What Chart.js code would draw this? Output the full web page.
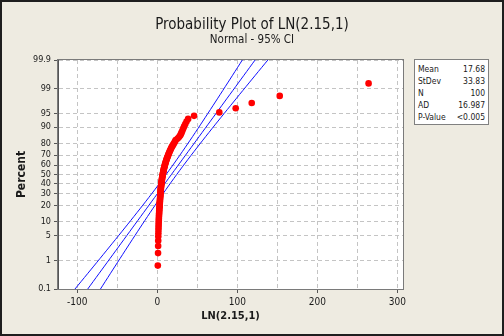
<!DOCTYPE html>
<html><head><meta charset="utf-8">
<script src="https://cdn.jsdelivr.net/npm/chart.js@4.4.1/dist/chart.umd.min.js"></script>
<style>
html,body{margin:0;padding:0;background:#EEEBE1;}
body{position:relative;width:504px;height:336px;overflow:hidden;font-family:'DejaVu Sans Condensed','DejaVu Sans',sans-serif;color:#1a1a1a;}
canvas{position:absolute;left:0;top:0;}
#title{position:absolute;left:0;top:15px;width:504px;text-align:center;font-size:15px;line-height:18px;}
#subtitle{position:absolute;left:0;top:32px;width:504px;text-align:center;font-size:11.5px;line-height:14px;}
#stats{position:absolute;left:414px;top:59px;width:75px;height:66px;box-sizing:border-box;border:1px solid #808080;background:#fff;font-size:8.5px;}
#stats .row{position:absolute;left:3px;right:3px;height:12px;line-height:12px;}
#stats .row span.v{position:absolute;right:0;top:0;}
#frame{position:absolute;left:0;top:0;width:504px;height:336px;box-sizing:border-box;border:2px solid #1e1e1e;pointer-events:none;}
</style></head>
<body>
<canvas id="c" width="504" height="336"></canvas>
<div id="title">Probability Plot of LN(2.15,1)</div>
<div id="subtitle">Normal - 95% CI</div>
<div id="stats"></div>
<div id="frame"></div>
<script>
// ---- data ----
const sample = [
 0.7,1.0,1.1,1.2,1.3,1.4,1.5,1.6,1.7,1.8,
 1.9,2.0,2.1,2.2,2.3,2.4,2.5,2.6,2.8,2.9,
 3.0,3.1,3.2,3.3,3.4,3.5,3.6,3.7,3.8,3.9,
 4.0,4.1,4.2,4.3,4.4,4.5,4.6,4.8,4.9,5.0,
 5.2,5.3,5.5,5.6,5.8,6.0,6.1,6.3,6.5,6.8,
 7.0,7.2,7.4,7.6,7.9,8.1,8.4,8.7,9.0,9.3,
 9.6,10.0,10.3,10.7,11.1,11.5,11.9,12.4,12.9,13.4,
 13.9,14.4,15.0,15.6,16.2,16.9,17.6,18.4,19.3,20.3,
 21.3,22.2,23.0,25.5,27.2,28.6,29.6,30.6,31.6,32.6,
 33.6,35.0,36.6,38.6,46.0,77.5,98.0,118.0,153.0,264.0
];
const statLabels = ['Mean','StDev','N','AD','P-Value'];
const statValues = ['17.68','33.83','100','16.987','<0.005'];
const fitMean = 17.68, fitStDev = 33.83, fitN = 100;
const yTickPercents = [0.1,1,5,10,20,30,40,50,60,70,80,90,95,99,99.9];
const yTickLabels = ['0.1','1','5','10','20','30','40','50','60','70','80','90','95','99','99.9'];
const xTicks = [-100,-50,0,50,100,150,200,250,300];
const xMin = -124, xMax = 307;

// ---- normal quantile (probability axis transform) ----
function normInv(p){
 const a=[-3.969683028665376e+01,2.209460984245205e+02,-2.759285104469687e+02,1.383577518672690e+02,-3.066479806614716e+01,2.506628277459239e+00];
 const b=[-5.447609879822406e+01,1.615858368580409e+02,-1.556989798598866e+02,6.680131188771972e+01,-1.328068155288572e+01];
 const c=[-7.784894002430293e-03,-3.223964580411365e-01,-2.400758277161838e+00,-2.549732539343734e+00,4.374664141464968e+00,2.938163982698783e+00];
 const d=[7.784695709041462e-03,3.224671290700398e-01,2.445134137142996e+00,3.754408661907416e+00];
 const pl=0.02425, ph=1-pl; let q,r;
 if(p<pl){q=Math.sqrt(-2*Math.log(p));return (((((c[0]*q+c[1])*q+c[2])*q+c[3])*q+c[4])*q+c[5])/((((d[0]*q+d[1])*q+d[2])*q+d[3])*q+1);}
 if(p>ph){q=Math.sqrt(-2*Math.log(1-p));return -(((((c[0]*q+c[1])*q+c[2])*q+c[3])*q+c[4])*q+c[5])/((((d[0]*q+d[1])*q+d[2])*q+d[3])*q+1);}
 q=p-0.5;r=q*q;return (((((a[0]*r+a[1])*r+a[2])*r+a[3])*r+a[4])*r+a[5])*q/(((((b[0]*r+b[1])*r+b[2])*r+b[3])*r+b[4])*r+1);
}
const zMin = normInv(yTickPercents[0]/100), zMax = normInv(yTickPercents[yTickPercents.length-1]/100);

// points: sorted sample vs median-rank plotting positions
const n = sample.length;
const pts = sample.map((v,i)=>({x:v, y:normInv((i+1-0.3)/(n+0.4))}));

// fitted line and 95% CI from the Mean/StDev shown
const fitLine=[], ciLo=[], ciHi=[];
for(let k=0;k<=60;k++){
  const z = zMin + (zMax-zMin)*k/60;
  const xp = fitMean + z*fitStDev;
  const se = fitStDev*Math.sqrt((1+z*z/2)/fitN);
  fitLine.push({x:xp,y:z}); ciLo.push({x:xp-1.96*se,y:z}); ciHi.push({x:xp+1.96*se,y:z});
}

// stats box
const sb=document.getElementById('stats');
statLabels.forEach((l,i)=>{
  const r=document.createElement('div'); r.className='row'; r.style.top=(2.5+i*12.2)+'px';
  r.innerHTML='<span></span><span class="v"></span>';
  r.children[0].textContent=l; r.children[1].textContent=statValues[i];
  sb.appendChild(r);
});

const FONT="'DejaVu Sans Condensed','DejaVu Sans',sans-serif";
const framePlugin={id:'frame',
 beforeDraw(chart){const {ctx,chartArea:a}=chart; ctx.save(); ctx.fillStyle='#EEEBE1'; ctx.fillRect(0,0,chart.width,chart.height); ctx.fillStyle='#fff'; ctx.fillRect(a.left,a.top,a.right-a.left,a.bottom-a.top); ctx.restore();},
 afterDraw(chart){const {ctx,chartArea:a}=chart; ctx.save(); ctx.strokeStyle='#7a7a7a'; ctx.lineWidth=1; ctx.strokeRect(Math.round(a.left)-0.5,Math.round(a.top)-0.5,Math.round(a.right-a.left)+1,Math.round(a.bottom-a.top)+1); ctx.restore();}
};
const lineDs=(d)=>({data:d,showLine:true,borderColor:'#1010ff',borderWidth:1,pointRadius:0,fill:false,tension:0});
new Chart(document.getElementById('c'),{
 type:'scatter',
 data:{datasets:[
  {data:pts,backgroundColor:'#ff0000',borderWidth:0,pointRadius:3.3,pointHoverRadius:3.3},
  lineDs(ciLo), lineDs(fitLine), lineDs(ciHi)
 ]},
 options:{
  responsive:false,animation:false,devicePixelRatio:1,
  layout:{padding:{left:0,top:60,right:101,bottom:0}},
  plugins:{legend:{display:false},tooltip:{enabled:false}},
  scales:{
   x:{type:'linear',min:xMin,max:xMax,
      afterBuildTicks(s){s.ticks=xTicks.map(v=>({value:v}));},
      afterFit(s){s.height=47;},
      ticks:{callback:(v)=> (v%100===0? String(v):''),autoSkip:false,maxRotation:0,padding:3,color:'#1a1a1a',font:{family:FONT,size:10}},
      grid:{color:'#c4c4c4',tickLength:4,tickColor:(c)=> (c.tick && c.tick.value%100===0 ? '#555' : 'rgba(0,0,0,0)')},
      border:{display:true,color:'#555',dash:[4,3]},
      title:{display:true,text:'LN(2.15,1)',color:'#1a1a1a',font:{family:FONT,size:11,weight:'bold'},padding:{top:0,bottom:13}}
   },
   y:{type:'linear',min:zMin,max:zMax,
      afterBuildTicks(s){s.ticks=yTickPercents.map(p=>({value:normInv(p/100)}));},
      afterFit(s){s.width=58;},
      ticks:{callback:(v,i)=>yTickLabels[i],autoSkip:false,padding:3,color:'#1a1a1a',font:{family:FONT,size:9}},
      grid:{color:'#c4c4c4',tickLength:4,tickColor:'#555'},
      border:{display:true,color:'#555',dash:[4,3]},
      title:{display:true,text:'Percent',color:'#1a1a1a',font:{family:FONT,size:12,weight:'bold'},padding:{top:15,bottom:0}}
   }
  }
 },
 plugins:[framePlugin]
});
</script>
</body></html>
